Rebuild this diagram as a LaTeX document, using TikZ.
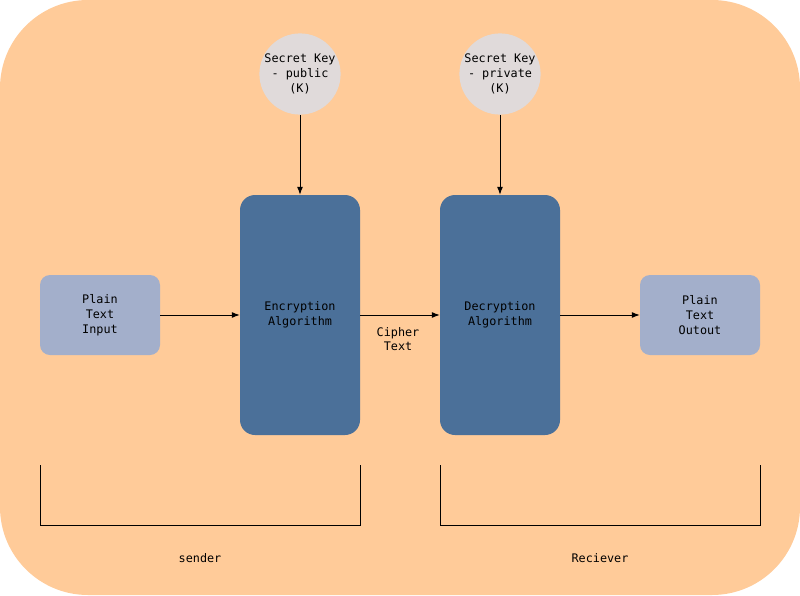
\documentclass[tikz,border=0pt]{standalone}
\usepackage{fontspec}
\setmonofont{DejaVu Sans Mono}
\usetikzlibrary{arrows.meta}
\definecolor{bgpeach}{HTML}{FFCB99}
\definecolor{algoblue}{HTML}{4B7099}
\definecolor{textblue}{HTML}{A3AFCB}
\definecolor{keygrey}{HTML}{E0DADA}
\tikzset{
  algo/.style={rectangle, fill=algoblue, rounded corners=15pt, minimum width=120pt, minimum height=240pt, align=center},
  plain/.style={rectangle, fill=textblue, rounded corners=10pt, minimum width=120pt, minimum height=80pt, align=center},
  secret/.style={circle, fill=keygrey, minimum size=80pt, inner sep=0pt, align=center},
  lbl/.style={align=center},
  flow/.style={-{Latex[length=8pt,width=6pt]}, line width=1pt},
}
\begin{document}
\begin{tikzpicture}[x=1pt, y=-1pt, font=\ttfamily\fontsize{11.8}{14.8}\selectfont]
  \useasboundingbox (0,0) rectangle (800,595);
  % Background
  \fill[bgpeach, rounded corners=88pt] (0,0) rectangle (800,595);
  % Nodes
  \node (keyPub) [secret] at (300, 74) {Secret Key\\- public\\(K)};
  \node (keyPriv) [secret] at (500, 74) {Secret Key\\- private\\(K)};
  \node (encAlgo) [algo] at (300, 315) {Encryption\\Algorithm};
  \node (decAlgo) [algo] at (500, 315) {Decryption\\Algorithm};
  \node (plainIn) [plain] at (100, 315) {Plain\\Text\\Input};
  \node (plainOut) [plain] at (700, 315) {Plain\\Text\\Outout};
  \node (cipher) [lbl] at (398, 339) {Cipher\\Text};
  % Arrow
  \draw[flow] (keyPub) -- (encAlgo);
  \draw[flow] (keyPriv) -- (decAlgo);
  \draw[flow] (plainIn) -- (encAlgo);
  \draw[flow] (encAlgo) -- (decAlgo);
  \draw[flow] (decAlgo) -- (plainOut);
  % Brackets
  \coordinate (sendL) at (40, 465);
  \coordinate (sendR) at (360, 465);
  \coordinate (recvL) at (440, 465);
  \coordinate (recvR) at (760, 465);
  \draw[line width=1pt] (sendL) -- ++(0,60) -| (sendR);
  \draw[line width=1pt] (recvL) -- ++(0,60) -| (recvR);
  \node (sender) [lbl] at (200, 558) {sender};
  \node (reciever) [lbl] at (600, 558) {Reciever};
\end{tikzpicture}
\end{document}
